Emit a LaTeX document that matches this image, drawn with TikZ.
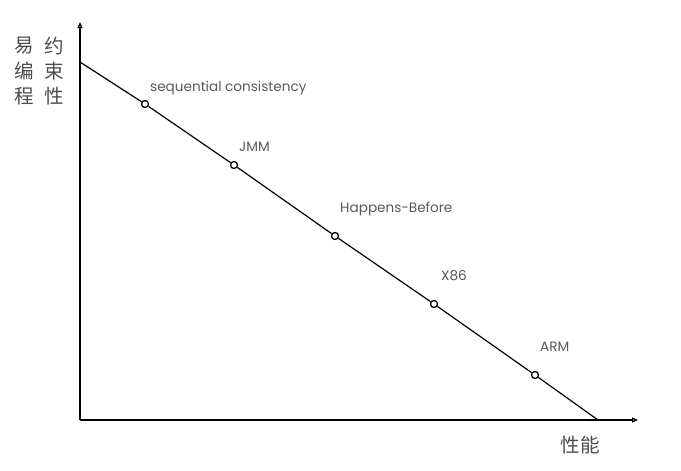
\documentclass[tikz,border=0pt]{standalone}
\usepackage{fontspec}
\setmainfont{Poppins}
\newfontfamily\cjk{Noto Sans CJK SC}
\usepackage{tikz}
\usetikzlibrary{arrows.meta, positioning}

\begin{document}
\begin{tikzpicture}[x=1pt, y=-1pt, >={Triangle[open, length=6pt, width=5pt]},
    lbl/.style={text=black!65, font=\fontsize{13.6}{15}\selectfont, inner sep=0pt, anchor=base west},
    zh/.style={text=black!70, font=\cjk\fontsize{19.5}{21}\selectfont, inner sep=0pt},
    pt/.style={circle, draw=black, line width=1.3pt, fill=white, inner sep=0pt, minimum size=7pt}]

    \useasboundingbox (0,0) rectangle (681,471);

    % 1. Axes
    \coordinate (O) at (80,420);
    \coordinate (ytip) at (80,22);
    \coordinate (xtip) at (638,420);
    \draw[line width=1.2pt, ->] (O) -- (ytip);
    \draw[line width=1.2pt, ->] (O) -- (xtip);

    % Axis labels
    \node[zh] (y1) at (24,46) {易};
    \node[zh] (y2) at (24,71) {编};
    \node[zh] (y3) at (24,96) {程};
    \node[zh] (z1) at (54,46) {约};
    \node[zh] (z2) at (54,71) {束};
    \node[zh] (z3) at (54,96) {性};
    \node[zh] (perf) at (580,445) {性能};

    % 2. Trade-off line
    \coordinate (top) at (80,62);
    \coordinate (bot) at (598,420);
    \node[pt] (sc) at (145,104) {};
    \node[pt] (jmm) at (234,165) {};
    \node[pt] (hb) at (335,236) {};
    \node[pt] (x86) at (434,304) {};
    \node[pt] (arm) at (535,375) {};
    \draw[line width=1.2pt] (top) -- (sc) -- (jmm) -- (hb) -- (x86) -- (arm) -- (bot);

    % 3. Labels
    \node[lbl] (scl) at (150,91) {sequential consistency};
    \node[lbl] (jmml) at (239,151) {JMM};
    \node[lbl] (hbl) at (340,212) {Happens-Before};
    \node[lbl] (x86l) at (441,280) {X86};
    \node[lbl] (arml) at (540,351) {ARM};

\end{tikzpicture}
\end{document}
